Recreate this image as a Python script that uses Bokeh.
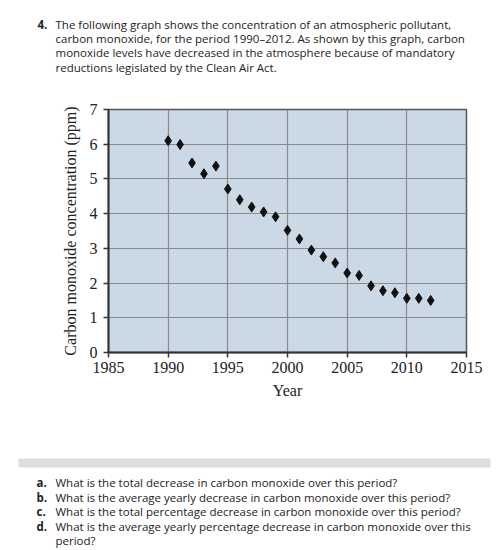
from bokeh.plotting import figure
from bokeh.models import Label, Range1d, FixedTicker
from bokeh.layouts import column
from bokeh.embed import file_html
from bokeh.resources import INLINE

years = list(range(1990, 2013))
co_ppm = [6.10, 5.99, 5.46, 5.15, 5.37, 4.71, 4.40, 4.19, 4.05, 3.91, 3.52,
          3.27, 2.95, 2.76, 2.58, 2.29, 2.22, 1.92, 1.78, 1.72, 1.56, 1.56, 1.50]
x_ticks = [1985, 1990, 1995, 2000, 2005, 2010, 2015]
y_ticks = [0, 1, 2, 3, 4, 5, 6, 7]

intro = ["The following graph shows the concentration of an atmospheric pollutant,",
         "carbon monoxide, for the period 1990\u20132012. As shown by this graph, carbon",
         "monoxide levels have decreased in the atmosphere because of mandatory",
         "reductions legislated by the Clean Air Act."]
q_letters = ["a.", "b.", "c.", "d.", ""]
questions = ["What is the total decrease in carbon monoxide over this period?",
             "What is the average yearly decrease in carbon monoxide over this period?",
             "What is the total percentage decrease in carbon monoxide over this period?",
             "What is the average yearly percentage decrease in carbon monoxide over this",
             "period?"]

W = 496
TOP_H, CHART_H, BOT_H = 90, 315, 145
FL, FR = 108, 466            # chart frame, canvas px
FT, FB = 109 - TOP_H, 352 - TOP_H

TXT_FONT = "Open Sans"
TXT_SIZE = "11.5px"
TXT_COLOR = "#222222"


def text_panel(h):
    f = figure(width=W, height=h, output_backend="svg", toolbar_location=None,
               x_range=Range1d(0, W), y_range=Range1d(h, 0),
               x_axis_location=None, y_axis_location=None,
               min_border=0, min_border_left=0, min_border_right=0,
               min_border_top=0, min_border_bottom=0)
    f.grid.visible = False
    f.outline_line_color = None
    f.background_fill_color = "white"
    f.border_fill_color = "white"
    return f


def add_text(f, x, y, txt, bold=False):
    f.add_layout(Label(x=x, y=y, text=txt, text_font=TXT_FONT, text_font_size=TXT_SIZE,
                       text_color=TXT_COLOR, text_baseline="middle",
                       text_font_style="bold" if bold else "normal"))


# ---- top text ----
top = text_panel(TOP_H)
add_text(top, 37, 24, "4.", bold=True)
for i, line in enumerate(intro):
    add_text(top, 55, 24 + i * 14.2, line)

# ---- chart ----
p = figure(width=W, height=CHART_H, output_backend="svg", toolbar_location=None,
           x_range=Range1d(1985, 2015), y_range=Range1d(0, 7),
           min_border_left=FL, min_border_right=W - FR,
           min_border_top=FT, min_border_bottom=CHART_H - FB)
p.background_fill_color = "#cbd8e6"
p.border_fill_color = "white"
p.outline_line_color = "#555555"
p.outline_line_width = 1.5

for ax in (p.xaxis[0], p.yaxis[0]):
    ax.major_label_text_font = "Liberation Serif"
    ax.major_label_text_font_size = "16px"
    ax.major_label_text_color = "#222222"
    ax.axis_label_text_font = "Liberation Serif"
    ax.axis_label_text_font_style = "normal"
    ax.axis_label_text_color = "#222222"
    ax.axis_line_color = "#333333"
    ax.axis_line_width = 2
    ax.major_tick_line_color = "#333333"
    ax.major_tick_line_width = 1.5
    ax.major_tick_out = 5
    ax.major_tick_in = 0
    ax.minor_tick_line_color = None

p.xaxis.ticker = FixedTicker(ticks=x_ticks)
p.yaxis.ticker = FixedTicker(ticks=y_ticks)
p.xaxis.axis_label = "Year"
p.yaxis.axis_label = "Carbon monoxide concentration (ppm)"
p.xaxis.axis_label_text_font_size = "16px"
p.yaxis.axis_label_text_font_size = "16px"
p.xaxis.major_label_standoff = 4
p.yaxis.major_label_standoff = 6
p.xaxis.axis_label_standoff = 6
p.yaxis.axis_label_standoff = 8

p.grid.grid_line_color = "#8a8a8a"
p.grid.grid_line_width = 1.2

p.scatter(years, co_ppm, marker="diamond", size=10, color="#111111")

# ---- bottom text ----
bot = text_panel(BOT_H)
y0 = 405
bot.quad(left=18, right=490, top=458 - y0, bottom=467 - y0,
         fill_color="#dedede", line_color=None)
for i, (lt, q) in enumerate(zip(q_letters, questions)):
    yy = 482 - y0 + i * 14.5
    if lt:
        add_text(bot, 36, yy, lt, bold=True)
    add_text(bot, 55, yy, q)

layout = column(column(top), column(p), column(bot), spacing=0)
open("out.html", "w").write(file_html(layout, INLINE))
